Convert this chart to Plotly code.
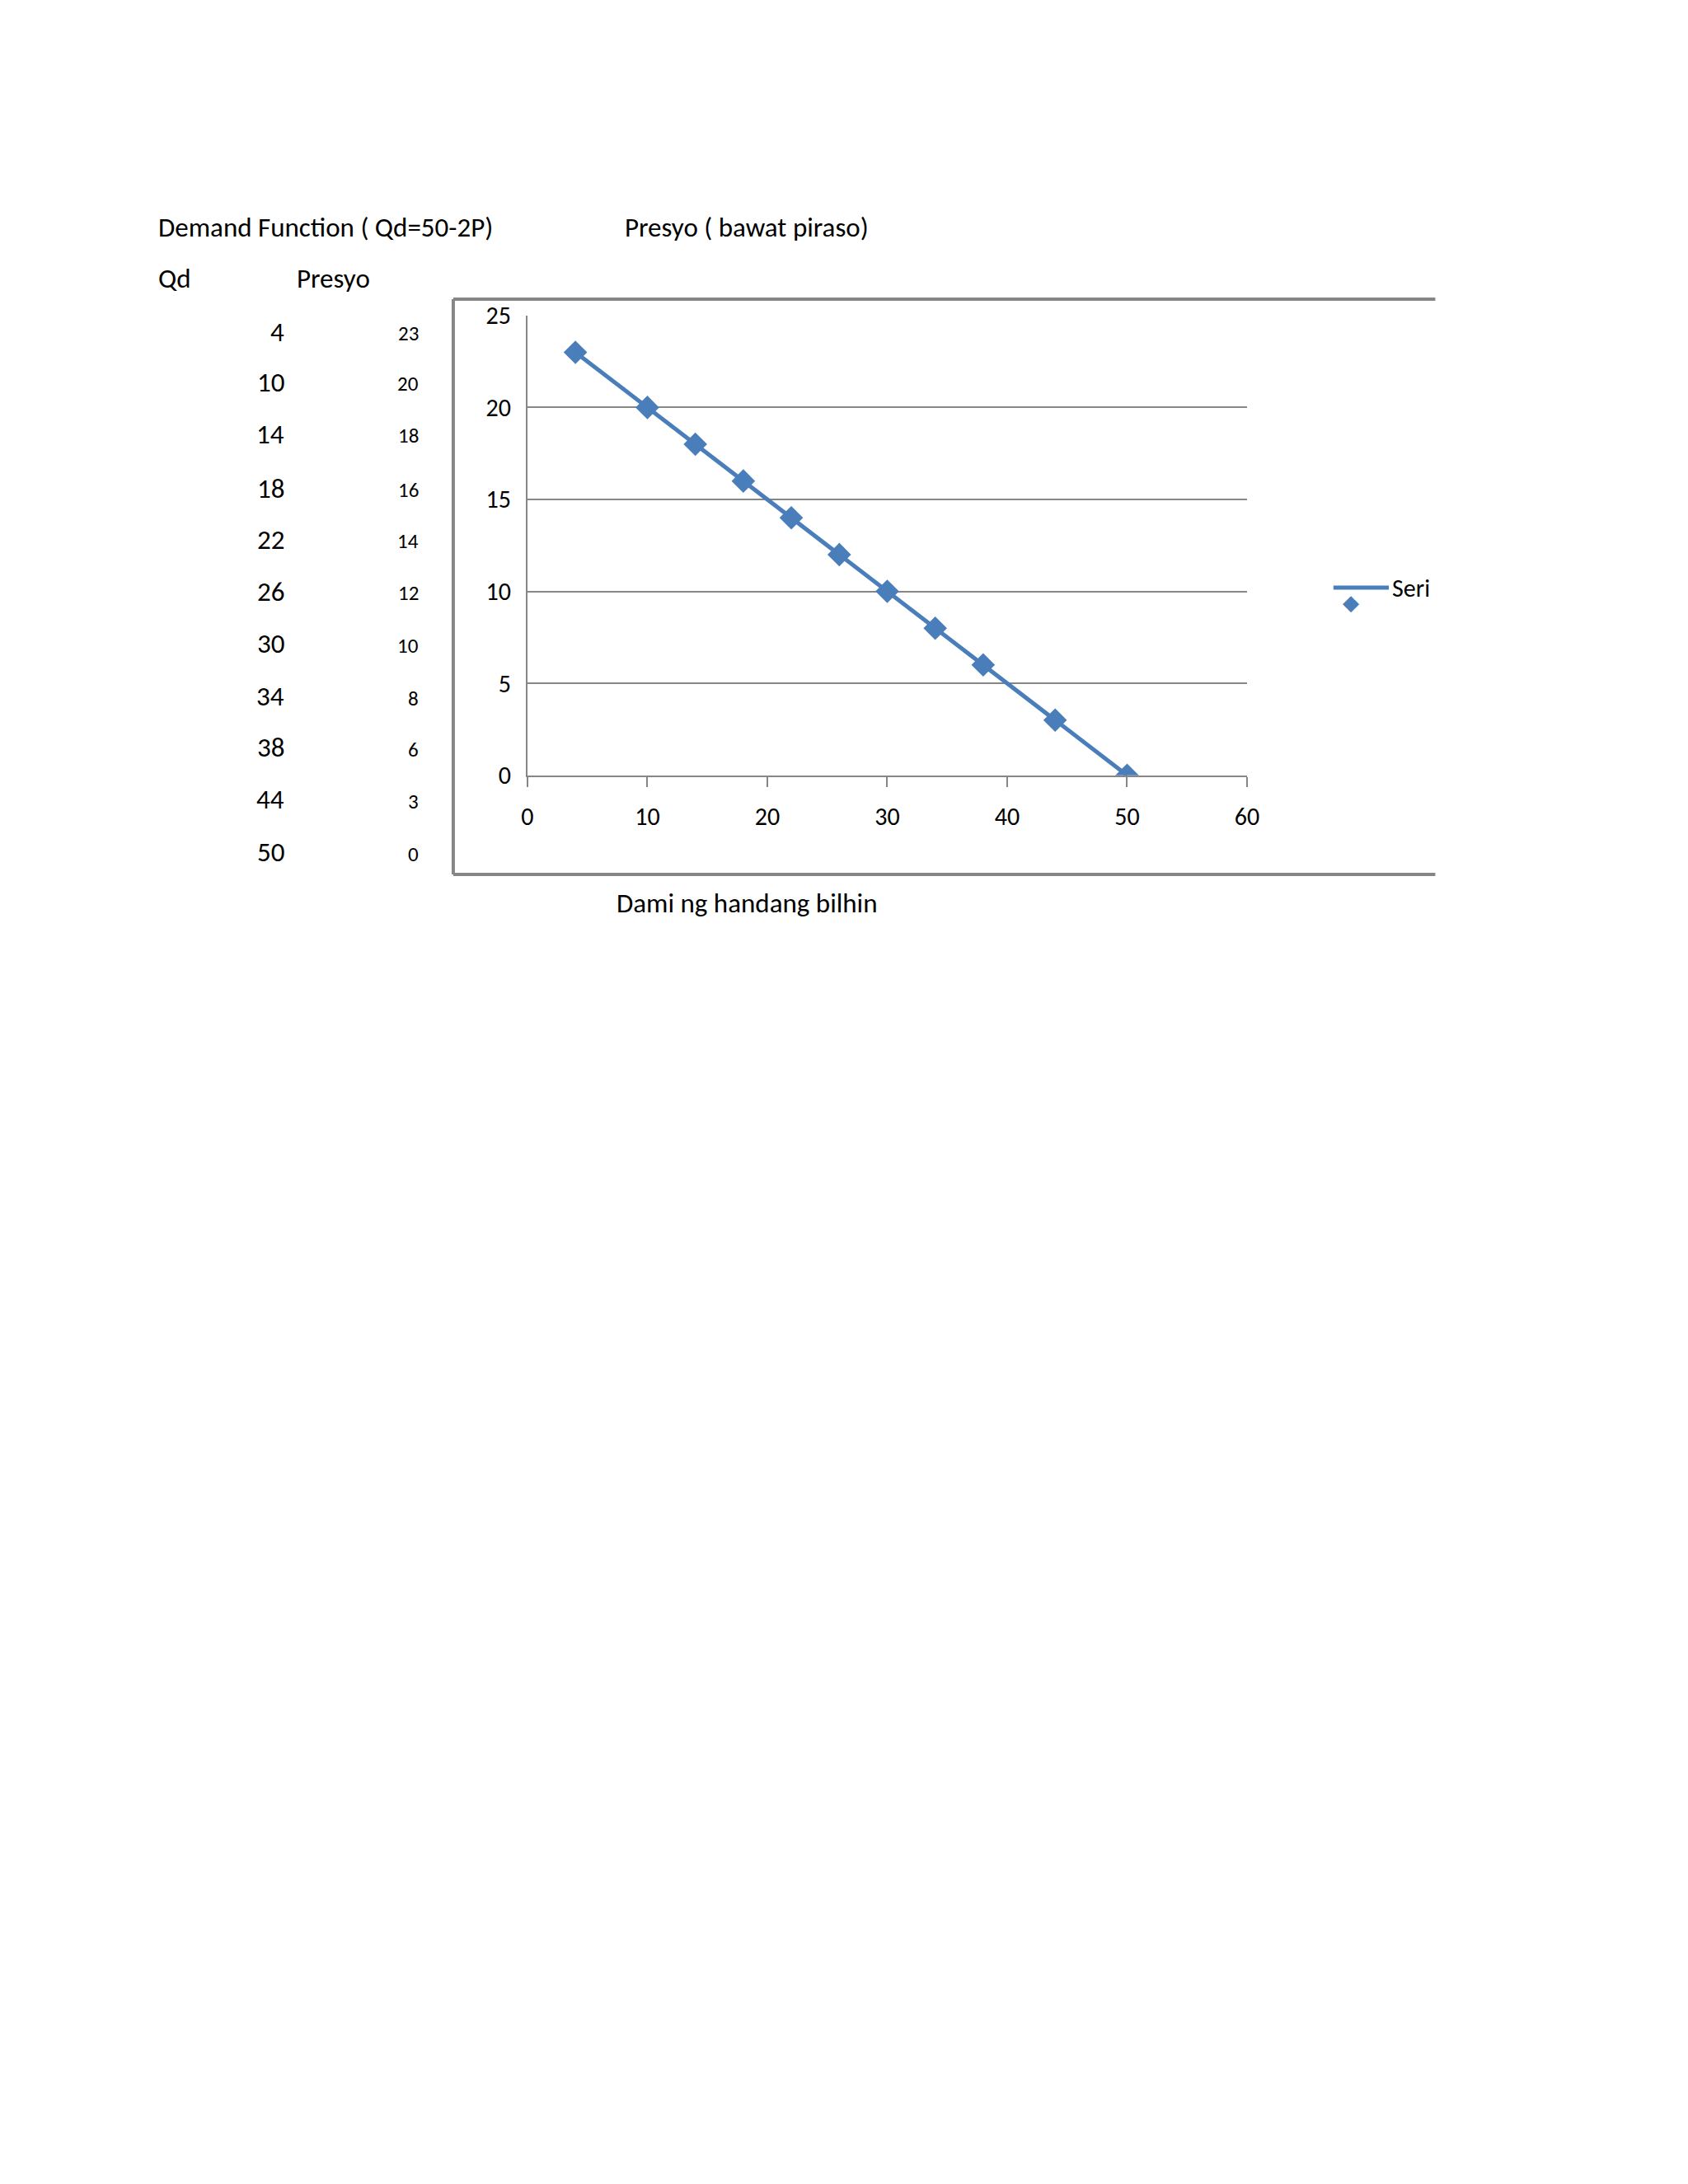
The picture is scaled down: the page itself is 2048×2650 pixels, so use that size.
import plotly.graph_objects as go

qd = [4, 10, 14, 18, 22, 26, 30, 34, 38, 44, 50]
presyo = [23, 20, 18, 16, 14, 12, 10, 8, 6, 3, 0]
x_ticks = [0, 10, 20, 30, 40, 50, 60]
y_ticks = [0, 5, 10, 15, 20, 25]

W, H = 2048, 2650
FONT = "Carlito, Liberation Sans Narrow, Liberation Sans, sans-serif"
BLUE = "#4A7EBB"
GRAY = "#868686"


def px(x):
    return x / W


def py(y):
    return 1 - y / H


fig = go.Figure()
fig.add_trace(go.Scatter(x=qd, y=presyo, mode="lines+markers", name="Series1",
                         line=dict(color=BLUE, width=5),
                         marker=dict(symbol="diamond", size=22, color=BLUE)))

fig.update_layout(
    width=W, height=H, margin=dict(l=0, r=0, t=0, b=0),
    paper_bgcolor="white", plot_bgcolor="white", showlegend=False,
    font=dict(family=FONT, size=30, color="black"),
    xaxis=dict(domain=[px(631), px(1514)], range=[0, 60], tickvals=x_ticks,
               showgrid=False, showline=True, linecolor=GRAY, linewidth=2,
               ticks="outside", tickcolor=GRAY, ticklen=12, tickwidth=2,
               zeroline=False, ticklabelstandoff=10),
    yaxis=dict(domain=[py(927), py(361)], range=[0, 25], tickvals=y_ticks,
               showgrid=True, gridcolor=GRAY, gridwidth=2,
               showline=True, linecolor=GRAY, linewidth=2,
               ticks="", zeroline=False, ticklabelstandoff=12),
)

# chart border (right side cut off in the reference)
for x0, y0, x1, y1 in [(540, 341, 1745, 341), (540, 341, 540, 1049), (540, 1049, 1745, 1049)]:
    fig.add_shape(type="line", xref="paper", yref="paper",
                  x0=px(x0), y0=py(y0), x1=px(x1), y1=py(y1),
                  line=dict(color=GRAY, width=4))

def text(s, x, y, size=33, anchor="left"):
    fig.add_annotation(text=s, x=px(x), y=py(y), xref="paper", yref="paper",
                       showarrow=False, xanchor=anchor, yanchor="middle",
                       font=dict(family=FONT, size=size, color="black"))

text("Demand Function ( Qd=50-2P)", 176, 253)
text("Presyo ( bawat piraso)", 748, 253)
text("Qd", 176, 316)
text("Presyo", 346, 316)
text("Dami ng handang bilhin", 738, 1085)

rows = [381, 443, 507, 574, 637, 701, 765, 830, 893, 957, 1022]
for q, p, y in zip(qd, presyo, rows):
    text(str(q), 335, y, 33, "right")
    text(str(p), 500, y + 2, 25, "right")

# legend entry
fig.add_shape(type="line", xref="paper", yref="paper", x0=px(1620), x1=px(1688),
              y0=py(696), y1=py(696), line=dict(color=BLUE, width=5))
fig.add_trace(go.Scatter(x=[0], y=[0], visible=False))
fig.add_annotation(text="◆", x=px(1654), y=py(696), xref="paper", yref="paper",
                   showarrow=False, font=dict(size=26, color=BLUE))
text("Seri", 1690, 696, 30)

fig.write_html("out.html")
